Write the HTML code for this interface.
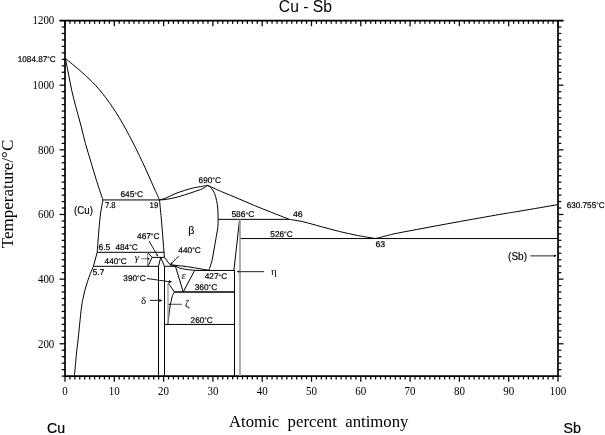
<!DOCTYPE html>
<html><head><meta charset="utf-8"><title>Cu - Sb</title>
<style>html,body{margin:0;padding:0;background:#fff;width:605px;height:435px;overflow:hidden}svg{display:block}</style>
</head><body>
<svg width="605" height="435" viewBox="0 0 605 435"><line x1="59.6" y1="20.55" x2="563.4" y2="20.55" stroke="#000" stroke-width="1.7"/>
<line x1="65" y1="20.55" x2="65" y2="376.1" stroke="#000" stroke-width="1.7"/>
<line x1="558" y1="20.55" x2="558" y2="376.1" stroke="#000" stroke-width="1.7"/>
<line x1="65" y1="376.1" x2="558" y2="376.1" stroke="#000" stroke-width="1.7"/>
<line x1="65" y1="376.1" x2="65" y2="381.7" stroke="#000" stroke-width="1.25"/>
<line x1="65" y1="20.55" x2="65" y2="26.15" stroke="#000" stroke-width="1.25"/>
<line x1="69.93" y1="376.1" x2="69.93" y2="379.4" stroke="#000" stroke-width="1.25"/>
<line x1="69.93" y1="20.55" x2="69.93" y2="23.85" stroke="#000" stroke-width="1.25"/>
<line x1="74.86" y1="376.1" x2="74.86" y2="379.4" stroke="#000" stroke-width="1.25"/>
<line x1="74.86" y1="20.55" x2="74.86" y2="23.85" stroke="#000" stroke-width="1.25"/>
<line x1="79.79" y1="376.1" x2="79.79" y2="379.4" stroke="#000" stroke-width="1.25"/>
<line x1="79.79" y1="20.55" x2="79.79" y2="23.85" stroke="#000" stroke-width="1.25"/>
<line x1="84.72" y1="376.1" x2="84.72" y2="379.4" stroke="#000" stroke-width="1.25"/>
<line x1="84.72" y1="20.55" x2="84.72" y2="23.85" stroke="#000" stroke-width="1.25"/>
<line x1="89.65" y1="376.1" x2="89.65" y2="379.4" stroke="#000" stroke-width="1.25"/>
<line x1="89.65" y1="20.55" x2="89.65" y2="23.85" stroke="#000" stroke-width="1.25"/>
<line x1="94.58" y1="376.1" x2="94.58" y2="379.4" stroke="#000" stroke-width="1.25"/>
<line x1="94.58" y1="20.55" x2="94.58" y2="23.85" stroke="#000" stroke-width="1.25"/>
<line x1="99.51" y1="376.1" x2="99.51" y2="379.4" stroke="#000" stroke-width="1.25"/>
<line x1="99.51" y1="20.55" x2="99.51" y2="23.85" stroke="#000" stroke-width="1.25"/>
<line x1="104.44" y1="376.1" x2="104.44" y2="379.4" stroke="#000" stroke-width="1.25"/>
<line x1="104.44" y1="20.55" x2="104.44" y2="23.85" stroke="#000" stroke-width="1.25"/>
<line x1="109.37" y1="376.1" x2="109.37" y2="379.4" stroke="#000" stroke-width="1.25"/>
<line x1="109.37" y1="20.55" x2="109.37" y2="23.85" stroke="#000" stroke-width="1.25"/>
<line x1="114.3" y1="376.1" x2="114.3" y2="381.7" stroke="#000" stroke-width="1.25"/>
<line x1="114.3" y1="20.55" x2="114.3" y2="26.15" stroke="#000" stroke-width="1.25"/>
<line x1="119.23" y1="376.1" x2="119.23" y2="379.4" stroke="#000" stroke-width="1.25"/>
<line x1="119.23" y1="20.55" x2="119.23" y2="23.85" stroke="#000" stroke-width="1.25"/>
<line x1="124.16" y1="376.1" x2="124.16" y2="379.4" stroke="#000" stroke-width="1.25"/>
<line x1="124.16" y1="20.55" x2="124.16" y2="23.85" stroke="#000" stroke-width="1.25"/>
<line x1="129.09" y1="376.1" x2="129.09" y2="379.4" stroke="#000" stroke-width="1.25"/>
<line x1="129.09" y1="20.55" x2="129.09" y2="23.85" stroke="#000" stroke-width="1.25"/>
<line x1="134.02" y1="376.1" x2="134.02" y2="379.4" stroke="#000" stroke-width="1.25"/>
<line x1="134.02" y1="20.55" x2="134.02" y2="23.85" stroke="#000" stroke-width="1.25"/>
<line x1="138.95" y1="376.1" x2="138.95" y2="379.4" stroke="#000" stroke-width="1.25"/>
<line x1="138.95" y1="20.55" x2="138.95" y2="23.85" stroke="#000" stroke-width="1.25"/>
<line x1="143.88" y1="376.1" x2="143.88" y2="379.4" stroke="#000" stroke-width="1.25"/>
<line x1="143.88" y1="20.55" x2="143.88" y2="23.85" stroke="#000" stroke-width="1.25"/>
<line x1="148.81" y1="376.1" x2="148.81" y2="379.4" stroke="#000" stroke-width="1.25"/>
<line x1="148.81" y1="20.55" x2="148.81" y2="23.85" stroke="#000" stroke-width="1.25"/>
<line x1="153.74" y1="376.1" x2="153.74" y2="379.4" stroke="#000" stroke-width="1.25"/>
<line x1="153.74" y1="20.55" x2="153.74" y2="23.85" stroke="#000" stroke-width="1.25"/>
<line x1="158.67" y1="376.1" x2="158.67" y2="379.4" stroke="#000" stroke-width="1.25"/>
<line x1="158.67" y1="20.55" x2="158.67" y2="23.85" stroke="#000" stroke-width="1.25"/>
<line x1="163.6" y1="376.1" x2="163.6" y2="381.7" stroke="#000" stroke-width="1.25"/>
<line x1="163.6" y1="20.55" x2="163.6" y2="26.15" stroke="#000" stroke-width="1.25"/>
<line x1="168.53" y1="376.1" x2="168.53" y2="379.4" stroke="#000" stroke-width="1.25"/>
<line x1="168.53" y1="20.55" x2="168.53" y2="23.85" stroke="#000" stroke-width="1.25"/>
<line x1="173.46" y1="376.1" x2="173.46" y2="379.4" stroke="#000" stroke-width="1.25"/>
<line x1="173.46" y1="20.55" x2="173.46" y2="23.85" stroke="#000" stroke-width="1.25"/>
<line x1="178.39" y1="376.1" x2="178.39" y2="379.4" stroke="#000" stroke-width="1.25"/>
<line x1="178.39" y1="20.55" x2="178.39" y2="23.85" stroke="#000" stroke-width="1.25"/>
<line x1="183.32" y1="376.1" x2="183.32" y2="379.4" stroke="#000" stroke-width="1.25"/>
<line x1="183.32" y1="20.55" x2="183.32" y2="23.85" stroke="#000" stroke-width="1.25"/>
<line x1="188.25" y1="376.1" x2="188.25" y2="379.4" stroke="#000" stroke-width="1.25"/>
<line x1="188.25" y1="20.55" x2="188.25" y2="23.85" stroke="#000" stroke-width="1.25"/>
<line x1="193.18" y1="376.1" x2="193.18" y2="379.4" stroke="#000" stroke-width="1.25"/>
<line x1="193.18" y1="20.55" x2="193.18" y2="23.85" stroke="#000" stroke-width="1.25"/>
<line x1="198.11" y1="376.1" x2="198.11" y2="379.4" stroke="#000" stroke-width="1.25"/>
<line x1="198.11" y1="20.55" x2="198.11" y2="23.85" stroke="#000" stroke-width="1.25"/>
<line x1="203.04" y1="376.1" x2="203.04" y2="379.4" stroke="#000" stroke-width="1.25"/>
<line x1="203.04" y1="20.55" x2="203.04" y2="23.85" stroke="#000" stroke-width="1.25"/>
<line x1="207.97" y1="376.1" x2="207.97" y2="379.4" stroke="#000" stroke-width="1.25"/>
<line x1="207.97" y1="20.55" x2="207.97" y2="23.85" stroke="#000" stroke-width="1.25"/>
<line x1="212.9" y1="376.1" x2="212.9" y2="381.7" stroke="#000" stroke-width="1.25"/>
<line x1="212.9" y1="20.55" x2="212.9" y2="26.15" stroke="#000" stroke-width="1.25"/>
<line x1="217.83" y1="376.1" x2="217.83" y2="379.4" stroke="#000" stroke-width="1.25"/>
<line x1="217.83" y1="20.55" x2="217.83" y2="23.85" stroke="#000" stroke-width="1.25"/>
<line x1="222.76" y1="376.1" x2="222.76" y2="379.4" stroke="#000" stroke-width="1.25"/>
<line x1="222.76" y1="20.55" x2="222.76" y2="23.85" stroke="#000" stroke-width="1.25"/>
<line x1="227.69" y1="376.1" x2="227.69" y2="379.4" stroke="#000" stroke-width="1.25"/>
<line x1="227.69" y1="20.55" x2="227.69" y2="23.85" stroke="#000" stroke-width="1.25"/>
<line x1="232.62" y1="376.1" x2="232.62" y2="379.4" stroke="#000" stroke-width="1.25"/>
<line x1="232.62" y1="20.55" x2="232.62" y2="23.85" stroke="#000" stroke-width="1.25"/>
<line x1="237.55" y1="376.1" x2="237.55" y2="379.4" stroke="#000" stroke-width="1.25"/>
<line x1="237.55" y1="20.55" x2="237.55" y2="23.85" stroke="#000" stroke-width="1.25"/>
<line x1="242.48" y1="376.1" x2="242.48" y2="379.4" stroke="#000" stroke-width="1.25"/>
<line x1="242.48" y1="20.55" x2="242.48" y2="23.85" stroke="#000" stroke-width="1.25"/>
<line x1="247.41" y1="376.1" x2="247.41" y2="379.4" stroke="#000" stroke-width="1.25"/>
<line x1="247.41" y1="20.55" x2="247.41" y2="23.85" stroke="#000" stroke-width="1.25"/>
<line x1="252.34" y1="376.1" x2="252.34" y2="379.4" stroke="#000" stroke-width="1.25"/>
<line x1="252.34" y1="20.55" x2="252.34" y2="23.85" stroke="#000" stroke-width="1.25"/>
<line x1="257.27" y1="376.1" x2="257.27" y2="379.4" stroke="#000" stroke-width="1.25"/>
<line x1="257.27" y1="20.55" x2="257.27" y2="23.85" stroke="#000" stroke-width="1.25"/>
<line x1="262.2" y1="376.1" x2="262.2" y2="381.7" stroke="#000" stroke-width="1.25"/>
<line x1="262.2" y1="20.55" x2="262.2" y2="26.15" stroke="#000" stroke-width="1.25"/>
<line x1="267.13" y1="376.1" x2="267.13" y2="379.4" stroke="#000" stroke-width="1.25"/>
<line x1="267.13" y1="20.55" x2="267.13" y2="23.85" stroke="#000" stroke-width="1.25"/>
<line x1="272.06" y1="376.1" x2="272.06" y2="379.4" stroke="#000" stroke-width="1.25"/>
<line x1="272.06" y1="20.55" x2="272.06" y2="23.85" stroke="#000" stroke-width="1.25"/>
<line x1="276.99" y1="376.1" x2="276.99" y2="379.4" stroke="#000" stroke-width="1.25"/>
<line x1="276.99" y1="20.55" x2="276.99" y2="23.85" stroke="#000" stroke-width="1.25"/>
<line x1="281.92" y1="376.1" x2="281.92" y2="379.4" stroke="#000" stroke-width="1.25"/>
<line x1="281.92" y1="20.55" x2="281.92" y2="23.85" stroke="#000" stroke-width="1.25"/>
<line x1="286.85" y1="376.1" x2="286.85" y2="379.4" stroke="#000" stroke-width="1.25"/>
<line x1="286.85" y1="20.55" x2="286.85" y2="23.85" stroke="#000" stroke-width="1.25"/>
<line x1="291.78" y1="376.1" x2="291.78" y2="379.4" stroke="#000" stroke-width="1.25"/>
<line x1="291.78" y1="20.55" x2="291.78" y2="23.85" stroke="#000" stroke-width="1.25"/>
<line x1="296.71" y1="376.1" x2="296.71" y2="379.4" stroke="#000" stroke-width="1.25"/>
<line x1="296.71" y1="20.55" x2="296.71" y2="23.85" stroke="#000" stroke-width="1.25"/>
<line x1="301.64" y1="376.1" x2="301.64" y2="379.4" stroke="#000" stroke-width="1.25"/>
<line x1="301.64" y1="20.55" x2="301.64" y2="23.85" stroke="#000" stroke-width="1.25"/>
<line x1="306.57" y1="376.1" x2="306.57" y2="379.4" stroke="#000" stroke-width="1.25"/>
<line x1="306.57" y1="20.55" x2="306.57" y2="23.85" stroke="#000" stroke-width="1.25"/>
<line x1="311.5" y1="376.1" x2="311.5" y2="381.7" stroke="#000" stroke-width="1.25"/>
<line x1="311.5" y1="20.55" x2="311.5" y2="26.15" stroke="#000" stroke-width="1.25"/>
<line x1="316.43" y1="376.1" x2="316.43" y2="379.4" stroke="#000" stroke-width="1.25"/>
<line x1="316.43" y1="20.55" x2="316.43" y2="23.85" stroke="#000" stroke-width="1.25"/>
<line x1="321.36" y1="376.1" x2="321.36" y2="379.4" stroke="#000" stroke-width="1.25"/>
<line x1="321.36" y1="20.55" x2="321.36" y2="23.85" stroke="#000" stroke-width="1.25"/>
<line x1="326.29" y1="376.1" x2="326.29" y2="379.4" stroke="#000" stroke-width="1.25"/>
<line x1="326.29" y1="20.55" x2="326.29" y2="23.85" stroke="#000" stroke-width="1.25"/>
<line x1="331.22" y1="376.1" x2="331.22" y2="379.4" stroke="#000" stroke-width="1.25"/>
<line x1="331.22" y1="20.55" x2="331.22" y2="23.85" stroke="#000" stroke-width="1.25"/>
<line x1="336.15" y1="376.1" x2="336.15" y2="379.4" stroke="#000" stroke-width="1.25"/>
<line x1="336.15" y1="20.55" x2="336.15" y2="23.85" stroke="#000" stroke-width="1.25"/>
<line x1="341.08" y1="376.1" x2="341.08" y2="379.4" stroke="#000" stroke-width="1.25"/>
<line x1="341.08" y1="20.55" x2="341.08" y2="23.85" stroke="#000" stroke-width="1.25"/>
<line x1="346.01" y1="376.1" x2="346.01" y2="379.4" stroke="#000" stroke-width="1.25"/>
<line x1="346.01" y1="20.55" x2="346.01" y2="23.85" stroke="#000" stroke-width="1.25"/>
<line x1="350.94" y1="376.1" x2="350.94" y2="379.4" stroke="#000" stroke-width="1.25"/>
<line x1="350.94" y1="20.55" x2="350.94" y2="23.85" stroke="#000" stroke-width="1.25"/>
<line x1="355.87" y1="376.1" x2="355.87" y2="379.4" stroke="#000" stroke-width="1.25"/>
<line x1="355.87" y1="20.55" x2="355.87" y2="23.85" stroke="#000" stroke-width="1.25"/>
<line x1="360.8" y1="376.1" x2="360.8" y2="381.7" stroke="#000" stroke-width="1.25"/>
<line x1="360.8" y1="20.55" x2="360.8" y2="26.15" stroke="#000" stroke-width="1.25"/>
<line x1="365.73" y1="376.1" x2="365.73" y2="379.4" stroke="#000" stroke-width="1.25"/>
<line x1="365.73" y1="20.55" x2="365.73" y2="23.85" stroke="#000" stroke-width="1.25"/>
<line x1="370.66" y1="376.1" x2="370.66" y2="379.4" stroke="#000" stroke-width="1.25"/>
<line x1="370.66" y1="20.55" x2="370.66" y2="23.85" stroke="#000" stroke-width="1.25"/>
<line x1="375.59" y1="376.1" x2="375.59" y2="379.4" stroke="#000" stroke-width="1.25"/>
<line x1="375.59" y1="20.55" x2="375.59" y2="23.85" stroke="#000" stroke-width="1.25"/>
<line x1="380.52" y1="376.1" x2="380.52" y2="379.4" stroke="#000" stroke-width="1.25"/>
<line x1="380.52" y1="20.55" x2="380.52" y2="23.85" stroke="#000" stroke-width="1.25"/>
<line x1="385.45" y1="376.1" x2="385.45" y2="379.4" stroke="#000" stroke-width="1.25"/>
<line x1="385.45" y1="20.55" x2="385.45" y2="23.85" stroke="#000" stroke-width="1.25"/>
<line x1="390.38" y1="376.1" x2="390.38" y2="379.4" stroke="#000" stroke-width="1.25"/>
<line x1="390.38" y1="20.55" x2="390.38" y2="23.85" stroke="#000" stroke-width="1.25"/>
<line x1="395.31" y1="376.1" x2="395.31" y2="379.4" stroke="#000" stroke-width="1.25"/>
<line x1="395.31" y1="20.55" x2="395.31" y2="23.85" stroke="#000" stroke-width="1.25"/>
<line x1="400.24" y1="376.1" x2="400.24" y2="379.4" stroke="#000" stroke-width="1.25"/>
<line x1="400.24" y1="20.55" x2="400.24" y2="23.85" stroke="#000" stroke-width="1.25"/>
<line x1="405.17" y1="376.1" x2="405.17" y2="379.4" stroke="#000" stroke-width="1.25"/>
<line x1="405.17" y1="20.55" x2="405.17" y2="23.85" stroke="#000" stroke-width="1.25"/>
<line x1="410.1" y1="376.1" x2="410.1" y2="381.7" stroke="#000" stroke-width="1.25"/>
<line x1="410.1" y1="20.55" x2="410.1" y2="26.15" stroke="#000" stroke-width="1.25"/>
<line x1="415.03" y1="376.1" x2="415.03" y2="379.4" stroke="#000" stroke-width="1.25"/>
<line x1="415.03" y1="20.55" x2="415.03" y2="23.85" stroke="#000" stroke-width="1.25"/>
<line x1="419.96" y1="376.1" x2="419.96" y2="379.4" stroke="#000" stroke-width="1.25"/>
<line x1="419.96" y1="20.55" x2="419.96" y2="23.85" stroke="#000" stroke-width="1.25"/>
<line x1="424.89" y1="376.1" x2="424.89" y2="379.4" stroke="#000" stroke-width="1.25"/>
<line x1="424.89" y1="20.55" x2="424.89" y2="23.85" stroke="#000" stroke-width="1.25"/>
<line x1="429.82" y1="376.1" x2="429.82" y2="379.4" stroke="#000" stroke-width="1.25"/>
<line x1="429.82" y1="20.55" x2="429.82" y2="23.85" stroke="#000" stroke-width="1.25"/>
<line x1="434.75" y1="376.1" x2="434.75" y2="379.4" stroke="#000" stroke-width="1.25"/>
<line x1="434.75" y1="20.55" x2="434.75" y2="23.85" stroke="#000" stroke-width="1.25"/>
<line x1="439.68" y1="376.1" x2="439.68" y2="379.4" stroke="#000" stroke-width="1.25"/>
<line x1="439.68" y1="20.55" x2="439.68" y2="23.85" stroke="#000" stroke-width="1.25"/>
<line x1="444.61" y1="376.1" x2="444.61" y2="379.4" stroke="#000" stroke-width="1.25"/>
<line x1="444.61" y1="20.55" x2="444.61" y2="23.85" stroke="#000" stroke-width="1.25"/>
<line x1="449.54" y1="376.1" x2="449.54" y2="379.4" stroke="#000" stroke-width="1.25"/>
<line x1="449.54" y1="20.55" x2="449.54" y2="23.85" stroke="#000" stroke-width="1.25"/>
<line x1="454.47" y1="376.1" x2="454.47" y2="379.4" stroke="#000" stroke-width="1.25"/>
<line x1="454.47" y1="20.55" x2="454.47" y2="23.85" stroke="#000" stroke-width="1.25"/>
<line x1="459.4" y1="376.1" x2="459.4" y2="381.7" stroke="#000" stroke-width="1.25"/>
<line x1="459.4" y1="20.55" x2="459.4" y2="26.15" stroke="#000" stroke-width="1.25"/>
<line x1="464.33" y1="376.1" x2="464.33" y2="379.4" stroke="#000" stroke-width="1.25"/>
<line x1="464.33" y1="20.55" x2="464.33" y2="23.85" stroke="#000" stroke-width="1.25"/>
<line x1="469.26" y1="376.1" x2="469.26" y2="379.4" stroke="#000" stroke-width="1.25"/>
<line x1="469.26" y1="20.55" x2="469.26" y2="23.85" stroke="#000" stroke-width="1.25"/>
<line x1="474.19" y1="376.1" x2="474.19" y2="379.4" stroke="#000" stroke-width="1.25"/>
<line x1="474.19" y1="20.55" x2="474.19" y2="23.85" stroke="#000" stroke-width="1.25"/>
<line x1="479.12" y1="376.1" x2="479.12" y2="379.4" stroke="#000" stroke-width="1.25"/>
<line x1="479.12" y1="20.55" x2="479.12" y2="23.85" stroke="#000" stroke-width="1.25"/>
<line x1="484.05" y1="376.1" x2="484.05" y2="379.4" stroke="#000" stroke-width="1.25"/>
<line x1="484.05" y1="20.55" x2="484.05" y2="23.85" stroke="#000" stroke-width="1.25"/>
<line x1="488.98" y1="376.1" x2="488.98" y2="379.4" stroke="#000" stroke-width="1.25"/>
<line x1="488.98" y1="20.55" x2="488.98" y2="23.85" stroke="#000" stroke-width="1.25"/>
<line x1="493.91" y1="376.1" x2="493.91" y2="379.4" stroke="#000" stroke-width="1.25"/>
<line x1="493.91" y1="20.55" x2="493.91" y2="23.85" stroke="#000" stroke-width="1.25"/>
<line x1="498.84" y1="376.1" x2="498.84" y2="379.4" stroke="#000" stroke-width="1.25"/>
<line x1="498.84" y1="20.55" x2="498.84" y2="23.85" stroke="#000" stroke-width="1.25"/>
<line x1="503.77" y1="376.1" x2="503.77" y2="379.4" stroke="#000" stroke-width="1.25"/>
<line x1="503.77" y1="20.55" x2="503.77" y2="23.85" stroke="#000" stroke-width="1.25"/>
<line x1="508.7" y1="376.1" x2="508.7" y2="381.7" stroke="#000" stroke-width="1.25"/>
<line x1="508.7" y1="20.55" x2="508.7" y2="26.15" stroke="#000" stroke-width="1.25"/>
<line x1="513.63" y1="376.1" x2="513.63" y2="379.4" stroke="#000" stroke-width="1.25"/>
<line x1="513.63" y1="20.55" x2="513.63" y2="23.85" stroke="#000" stroke-width="1.25"/>
<line x1="518.56" y1="376.1" x2="518.56" y2="379.4" stroke="#000" stroke-width="1.25"/>
<line x1="518.56" y1="20.55" x2="518.56" y2="23.85" stroke="#000" stroke-width="1.25"/>
<line x1="523.49" y1="376.1" x2="523.49" y2="379.4" stroke="#000" stroke-width="1.25"/>
<line x1="523.49" y1="20.55" x2="523.49" y2="23.85" stroke="#000" stroke-width="1.25"/>
<line x1="528.42" y1="376.1" x2="528.42" y2="379.4" stroke="#000" stroke-width="1.25"/>
<line x1="528.42" y1="20.55" x2="528.42" y2="23.85" stroke="#000" stroke-width="1.25"/>
<line x1="533.35" y1="376.1" x2="533.35" y2="379.4" stroke="#000" stroke-width="1.25"/>
<line x1="533.35" y1="20.55" x2="533.35" y2="23.85" stroke="#000" stroke-width="1.25"/>
<line x1="538.28" y1="376.1" x2="538.28" y2="379.4" stroke="#000" stroke-width="1.25"/>
<line x1="538.28" y1="20.55" x2="538.28" y2="23.85" stroke="#000" stroke-width="1.25"/>
<line x1="543.21" y1="376.1" x2="543.21" y2="379.4" stroke="#000" stroke-width="1.25"/>
<line x1="543.21" y1="20.55" x2="543.21" y2="23.85" stroke="#000" stroke-width="1.25"/>
<line x1="548.14" y1="376.1" x2="548.14" y2="379.4" stroke="#000" stroke-width="1.25"/>
<line x1="548.14" y1="20.55" x2="548.14" y2="23.85" stroke="#000" stroke-width="1.25"/>
<line x1="553.07" y1="376.1" x2="553.07" y2="379.4" stroke="#000" stroke-width="1.25"/>
<line x1="553.07" y1="20.55" x2="553.07" y2="23.85" stroke="#000" stroke-width="1.25"/>
<line x1="558" y1="376.1" x2="558" y2="381.7" stroke="#000" stroke-width="1.25"/>
<line x1="558" y1="20.55" x2="558" y2="26.15" stroke="#000" stroke-width="1.25"/>
<line x1="61.7" y1="376.1" x2="65" y2="376.1" stroke="#000" stroke-width="1.25"/>
<line x1="558" y1="376.1" x2="561.3" y2="376.1" stroke="#000" stroke-width="1.25"/>
<line x1="61.7" y1="369.64" x2="65" y2="369.64" stroke="#000" stroke-width="1.25"/>
<line x1="558" y1="369.64" x2="561.3" y2="369.64" stroke="#000" stroke-width="1.25"/>
<line x1="61.7" y1="363.17" x2="65" y2="363.17" stroke="#000" stroke-width="1.25"/>
<line x1="558" y1="363.17" x2="561.3" y2="363.17" stroke="#000" stroke-width="1.25"/>
<line x1="61.7" y1="356.71" x2="65" y2="356.71" stroke="#000" stroke-width="1.25"/>
<line x1="558" y1="356.71" x2="561.3" y2="356.71" stroke="#000" stroke-width="1.25"/>
<line x1="61.7" y1="350.24" x2="65" y2="350.24" stroke="#000" stroke-width="1.25"/>
<line x1="558" y1="350.24" x2="561.3" y2="350.24" stroke="#000" stroke-width="1.25"/>
<line x1="59.6" y1="343.78" x2="65" y2="343.78" stroke="#000" stroke-width="1.25"/>
<line x1="558" y1="343.78" x2="563.4" y2="343.78" stroke="#000" stroke-width="1.25"/>
<line x1="61.7" y1="337.31" x2="65" y2="337.31" stroke="#000" stroke-width="1.25"/>
<line x1="558" y1="337.31" x2="561.3" y2="337.31" stroke="#000" stroke-width="1.25"/>
<line x1="61.7" y1="330.85" x2="65" y2="330.85" stroke="#000" stroke-width="1.25"/>
<line x1="558" y1="330.85" x2="561.3" y2="330.85" stroke="#000" stroke-width="1.25"/>
<line x1="61.7" y1="324.38" x2="65" y2="324.38" stroke="#000" stroke-width="1.25"/>
<line x1="558" y1="324.38" x2="561.3" y2="324.38" stroke="#000" stroke-width="1.25"/>
<line x1="61.7" y1="317.92" x2="65" y2="317.92" stroke="#000" stroke-width="1.25"/>
<line x1="558" y1="317.92" x2="561.3" y2="317.92" stroke="#000" stroke-width="1.25"/>
<line x1="61.7" y1="311.45" x2="65" y2="311.45" stroke="#000" stroke-width="1.25"/>
<line x1="558" y1="311.45" x2="561.3" y2="311.45" stroke="#000" stroke-width="1.25"/>
<line x1="61.7" y1="304.99" x2="65" y2="304.99" stroke="#000" stroke-width="1.25"/>
<line x1="558" y1="304.99" x2="561.3" y2="304.99" stroke="#000" stroke-width="1.25"/>
<line x1="61.7" y1="298.53" x2="65" y2="298.53" stroke="#000" stroke-width="1.25"/>
<line x1="558" y1="298.53" x2="561.3" y2="298.53" stroke="#000" stroke-width="1.25"/>
<line x1="61.7" y1="292.06" x2="65" y2="292.06" stroke="#000" stroke-width="1.25"/>
<line x1="558" y1="292.06" x2="561.3" y2="292.06" stroke="#000" stroke-width="1.25"/>
<line x1="61.7" y1="285.6" x2="65" y2="285.6" stroke="#000" stroke-width="1.25"/>
<line x1="558" y1="285.6" x2="561.3" y2="285.6" stroke="#000" stroke-width="1.25"/>
<line x1="59.6" y1="279.13" x2="65" y2="279.13" stroke="#000" stroke-width="1.25"/>
<line x1="558" y1="279.13" x2="563.4" y2="279.13" stroke="#000" stroke-width="1.25"/>
<line x1="61.7" y1="272.67" x2="65" y2="272.67" stroke="#000" stroke-width="1.25"/>
<line x1="558" y1="272.67" x2="561.3" y2="272.67" stroke="#000" stroke-width="1.25"/>
<line x1="61.7" y1="266.2" x2="65" y2="266.2" stroke="#000" stroke-width="1.25"/>
<line x1="558" y1="266.2" x2="561.3" y2="266.2" stroke="#000" stroke-width="1.25"/>
<line x1="61.7" y1="259.74" x2="65" y2="259.74" stroke="#000" stroke-width="1.25"/>
<line x1="558" y1="259.74" x2="561.3" y2="259.74" stroke="#000" stroke-width="1.25"/>
<line x1="61.7" y1="253.27" x2="65" y2="253.27" stroke="#000" stroke-width="1.25"/>
<line x1="558" y1="253.27" x2="561.3" y2="253.27" stroke="#000" stroke-width="1.25"/>
<line x1="61.7" y1="246.81" x2="65" y2="246.81" stroke="#000" stroke-width="1.25"/>
<line x1="558" y1="246.81" x2="561.3" y2="246.81" stroke="#000" stroke-width="1.25"/>
<line x1="61.7" y1="240.34" x2="65" y2="240.34" stroke="#000" stroke-width="1.25"/>
<line x1="558" y1="240.34" x2="561.3" y2="240.34" stroke="#000" stroke-width="1.25"/>
<line x1="61.7" y1="233.88" x2="65" y2="233.88" stroke="#000" stroke-width="1.25"/>
<line x1="558" y1="233.88" x2="561.3" y2="233.88" stroke="#000" stroke-width="1.25"/>
<line x1="61.7" y1="227.42" x2="65" y2="227.42" stroke="#000" stroke-width="1.25"/>
<line x1="558" y1="227.42" x2="561.3" y2="227.42" stroke="#000" stroke-width="1.25"/>
<line x1="61.7" y1="220.95" x2="65" y2="220.95" stroke="#000" stroke-width="1.25"/>
<line x1="558" y1="220.95" x2="561.3" y2="220.95" stroke="#000" stroke-width="1.25"/>
<line x1="59.6" y1="214.49" x2="65" y2="214.49" stroke="#000" stroke-width="1.25"/>
<line x1="558" y1="214.49" x2="563.4" y2="214.49" stroke="#000" stroke-width="1.25"/>
<line x1="61.7" y1="208.02" x2="65" y2="208.02" stroke="#000" stroke-width="1.25"/>
<line x1="558" y1="208.02" x2="561.3" y2="208.02" stroke="#000" stroke-width="1.25"/>
<line x1="61.7" y1="201.56" x2="65" y2="201.56" stroke="#000" stroke-width="1.25"/>
<line x1="558" y1="201.56" x2="561.3" y2="201.56" stroke="#000" stroke-width="1.25"/>
<line x1="61.7" y1="195.09" x2="65" y2="195.09" stroke="#000" stroke-width="1.25"/>
<line x1="558" y1="195.09" x2="561.3" y2="195.09" stroke="#000" stroke-width="1.25"/>
<line x1="61.7" y1="188.63" x2="65" y2="188.63" stroke="#000" stroke-width="1.25"/>
<line x1="558" y1="188.63" x2="561.3" y2="188.63" stroke="#000" stroke-width="1.25"/>
<line x1="61.7" y1="182.16" x2="65" y2="182.16" stroke="#000" stroke-width="1.25"/>
<line x1="558" y1="182.16" x2="561.3" y2="182.16" stroke="#000" stroke-width="1.25"/>
<line x1="61.7" y1="175.7" x2="65" y2="175.7" stroke="#000" stroke-width="1.25"/>
<line x1="558" y1="175.7" x2="561.3" y2="175.7" stroke="#000" stroke-width="1.25"/>
<line x1="61.7" y1="169.23" x2="65" y2="169.23" stroke="#000" stroke-width="1.25"/>
<line x1="558" y1="169.23" x2="561.3" y2="169.23" stroke="#000" stroke-width="1.25"/>
<line x1="61.7" y1="162.77" x2="65" y2="162.77" stroke="#000" stroke-width="1.25"/>
<line x1="558" y1="162.77" x2="561.3" y2="162.77" stroke="#000" stroke-width="1.25"/>
<line x1="61.7" y1="156.31" x2="65" y2="156.31" stroke="#000" stroke-width="1.25"/>
<line x1="558" y1="156.31" x2="561.3" y2="156.31" stroke="#000" stroke-width="1.25"/>
<line x1="59.6" y1="149.84" x2="65" y2="149.84" stroke="#000" stroke-width="1.25"/>
<line x1="558" y1="149.84" x2="563.4" y2="149.84" stroke="#000" stroke-width="1.25"/>
<line x1="61.7" y1="143.38" x2="65" y2="143.38" stroke="#000" stroke-width="1.25"/>
<line x1="558" y1="143.38" x2="561.3" y2="143.38" stroke="#000" stroke-width="1.25"/>
<line x1="61.7" y1="136.91" x2="65" y2="136.91" stroke="#000" stroke-width="1.25"/>
<line x1="558" y1="136.91" x2="561.3" y2="136.91" stroke="#000" stroke-width="1.25"/>
<line x1="61.7" y1="130.45" x2="65" y2="130.45" stroke="#000" stroke-width="1.25"/>
<line x1="558" y1="130.45" x2="561.3" y2="130.45" stroke="#000" stroke-width="1.25"/>
<line x1="61.7" y1="123.98" x2="65" y2="123.98" stroke="#000" stroke-width="1.25"/>
<line x1="558" y1="123.98" x2="561.3" y2="123.98" stroke="#000" stroke-width="1.25"/>
<line x1="61.7" y1="117.52" x2="65" y2="117.52" stroke="#000" stroke-width="1.25"/>
<line x1="558" y1="117.52" x2="561.3" y2="117.52" stroke="#000" stroke-width="1.25"/>
<line x1="61.7" y1="111.05" x2="65" y2="111.05" stroke="#000" stroke-width="1.25"/>
<line x1="558" y1="111.05" x2="561.3" y2="111.05" stroke="#000" stroke-width="1.25"/>
<line x1="61.7" y1="104.59" x2="65" y2="104.59" stroke="#000" stroke-width="1.25"/>
<line x1="558" y1="104.59" x2="561.3" y2="104.59" stroke="#000" stroke-width="1.25"/>
<line x1="61.7" y1="98.12" x2="65" y2="98.12" stroke="#000" stroke-width="1.25"/>
<line x1="558" y1="98.12" x2="561.3" y2="98.12" stroke="#000" stroke-width="1.25"/>
<line x1="61.7" y1="91.66" x2="65" y2="91.66" stroke="#000" stroke-width="1.25"/>
<line x1="558" y1="91.66" x2="561.3" y2="91.66" stroke="#000" stroke-width="1.25"/>
<line x1="59.6" y1="85.2" x2="65" y2="85.2" stroke="#000" stroke-width="1.25"/>
<line x1="558" y1="85.2" x2="563.4" y2="85.2" stroke="#000" stroke-width="1.25"/>
<line x1="61.7" y1="78.73" x2="65" y2="78.73" stroke="#000" stroke-width="1.25"/>
<line x1="558" y1="78.73" x2="561.3" y2="78.73" stroke="#000" stroke-width="1.25"/>
<line x1="61.7" y1="72.27" x2="65" y2="72.27" stroke="#000" stroke-width="1.25"/>
<line x1="558" y1="72.27" x2="561.3" y2="72.27" stroke="#000" stroke-width="1.25"/>
<line x1="61.7" y1="65.8" x2="65" y2="65.8" stroke="#000" stroke-width="1.25"/>
<line x1="558" y1="65.8" x2="561.3" y2="65.8" stroke="#000" stroke-width="1.25"/>
<line x1="61.7" y1="59.34" x2="65" y2="59.34" stroke="#000" stroke-width="1.25"/>
<line x1="558" y1="59.34" x2="561.3" y2="59.34" stroke="#000" stroke-width="1.25"/>
<line x1="61.7" y1="52.87" x2="65" y2="52.87" stroke="#000" stroke-width="1.25"/>
<line x1="558" y1="52.87" x2="561.3" y2="52.87" stroke="#000" stroke-width="1.25"/>
<line x1="61.7" y1="46.41" x2="65" y2="46.41" stroke="#000" stroke-width="1.25"/>
<line x1="558" y1="46.41" x2="561.3" y2="46.41" stroke="#000" stroke-width="1.25"/>
<line x1="61.7" y1="39.94" x2="65" y2="39.94" stroke="#000" stroke-width="1.25"/>
<line x1="558" y1="39.94" x2="561.3" y2="39.94" stroke="#000" stroke-width="1.25"/>
<line x1="61.7" y1="33.48" x2="65" y2="33.48" stroke="#000" stroke-width="1.25"/>
<line x1="558" y1="33.48" x2="561.3" y2="33.48" stroke="#000" stroke-width="1.25"/>
<line x1="61.7" y1="27.01" x2="65" y2="27.01" stroke="#000" stroke-width="1.25"/>
<line x1="558" y1="27.01" x2="561.3" y2="27.01" stroke="#000" stroke-width="1.25"/>
<line x1="59.6" y1="20.55" x2="65" y2="20.55" stroke="#000" stroke-width="1.25"/>
<line x1="558" y1="20.55" x2="563.4" y2="20.55" stroke="#000" stroke-width="1.25"/>
<text x="65" y="394.5" style="font-family:'Liberation Serif','Times New Roman',serif;font-size:11.8px" text-anchor="middle" textLength="5.5" lengthAdjust="spacingAndGlyphs">0</text>
<text x="114.3" y="394.5" style="font-family:'Liberation Serif','Times New Roman',serif;font-size:11.8px" text-anchor="middle" textLength="11" lengthAdjust="spacingAndGlyphs">10</text>
<text x="163.6" y="394.5" style="font-family:'Liberation Serif','Times New Roman',serif;font-size:11.8px" text-anchor="middle" textLength="11" lengthAdjust="spacingAndGlyphs">20</text>
<text x="212.9" y="394.5" style="font-family:'Liberation Serif','Times New Roman',serif;font-size:11.8px" text-anchor="middle" textLength="11" lengthAdjust="spacingAndGlyphs">30</text>
<text x="262.2" y="394.5" style="font-family:'Liberation Serif','Times New Roman',serif;font-size:11.8px" text-anchor="middle" textLength="11" lengthAdjust="spacingAndGlyphs">40</text>
<text x="311.5" y="394.5" style="font-family:'Liberation Serif','Times New Roman',serif;font-size:11.8px" text-anchor="middle" textLength="11" lengthAdjust="spacingAndGlyphs">50</text>
<text x="360.8" y="394.5" style="font-family:'Liberation Serif','Times New Roman',serif;font-size:11.8px" text-anchor="middle" textLength="11" lengthAdjust="spacingAndGlyphs">60</text>
<text x="410.1" y="394.5" style="font-family:'Liberation Serif','Times New Roman',serif;font-size:11.8px" text-anchor="middle" textLength="11" lengthAdjust="spacingAndGlyphs">70</text>
<text x="459.4" y="394.5" style="font-family:'Liberation Serif','Times New Roman',serif;font-size:11.8px" text-anchor="middle" textLength="11" lengthAdjust="spacingAndGlyphs">80</text>
<text x="508.7" y="394.5" style="font-family:'Liberation Serif','Times New Roman',serif;font-size:11.8px" text-anchor="middle" textLength="11" lengthAdjust="spacingAndGlyphs">90</text>
<text x="558" y="394.5" style="font-family:'Liberation Serif','Times New Roman',serif;font-size:11.8px" text-anchor="middle" textLength="16.5" lengthAdjust="spacingAndGlyphs">100</text>
<text x="54.3" y="347.68" style="font-family:'Liberation Serif','Times New Roman',serif;font-size:11.8px" text-anchor="end" textLength="16.35" lengthAdjust="spacingAndGlyphs">200</text>
<text x="54.3" y="283.03" style="font-family:'Liberation Serif','Times New Roman',serif;font-size:11.8px" text-anchor="end" textLength="16.35" lengthAdjust="spacingAndGlyphs">400</text>
<text x="54.3" y="218.39" style="font-family:'Liberation Serif','Times New Roman',serif;font-size:11.8px" text-anchor="end" textLength="16.35" lengthAdjust="spacingAndGlyphs">600</text>
<text x="54.3" y="153.74" style="font-family:'Liberation Serif','Times New Roman',serif;font-size:11.8px" text-anchor="end" textLength="16.35" lengthAdjust="spacingAndGlyphs">800</text>
<text x="54.3" y="89.1" style="font-family:'Liberation Serif','Times New Roman',serif;font-size:11.8px" text-anchor="end" textLength="21.8" lengthAdjust="spacingAndGlyphs">1000</text>
<text x="54.3" y="24.45" style="font-family:'Liberation Serif','Times New Roman',serif;font-size:11.8px" text-anchor="end" textLength="21.8" lengthAdjust="spacingAndGlyphs">1200</text>
<text x="305.4" y="11.8" style="font-family:'Liberation Sans',Arial,sans-serif;font-size:16px" text-anchor="middle" textLength="53.2" lengthAdjust="spacingAndGlyphs">Cu - Sb</text>
<text x="229" y="426.8" style="font-family:'Liberation Serif','Times New Roman',serif;font-size:16.8px" text-anchor="start" textLength="179.5" lengthAdjust="spacingAndGlyphs">Atomic&#160;&#160;percent&#160;&#160;antimony</text>
<text x="0" y="0" transform="translate(13,194) rotate(-90)" style="font-family:'Liberation Serif','Times New Roman',serif;font-size:17.5px" text-anchor="middle" textLength="108.5" lengthAdjust="spacingAndGlyphs">Temperature/°C</text>
<text x="47" y="433.4" style="font-family:'Liberation Sans',Arial,sans-serif;font-size:15.4px" text-anchor="start" stroke="#000" stroke-width="0.2" textLength="18.1" lengthAdjust="spacingAndGlyphs">Cu</text>
<text x="563.5" y="433.4" style="font-family:'Liberation Sans',Arial,sans-serif;font-size:15.4px" text-anchor="start" stroke="#000" stroke-width="0.2" textLength="17.5" lengthAdjust="spacingAndGlyphs">Sb</text>
<path d="M65.4 58.4 C66.53 59.33 69.95 62.13 72.2 64 C74.45 65.87 76.67 67.68 78.9 69.6 C81.13 71.52 83.35 73.42 85.6 75.5 C87.85 77.58 90.15 79.78 92.4 82.1 C94.65 84.42 96.87 86.8 99.1 89.4 C101.33 92 103.57 94.75 105.8 97.7 C108.03 100.65 110.27 103.78 112.5 107.1 C114.73 110.42 116.97 113.9 119.2 117.6 C121.43 121.3 123.67 125.23 125.9 129.3 C128.13 133.37 130.35 137.62 132.6 142 C134.85 146.38 137.15 150.93 139.4 155.6 C141.65 160.27 143.87 165.1 146.1 170 C148.33 174.9 150.57 180.01 152.8 185 C155.03 189.99 158.38 197.46 159.5 199.95" fill="none" stroke="#000" stroke-width="1.0"/>
<path d="M65.4 58.4 C65.92 61.02 67.45 68.78 68.5 74.1 C69.55 79.42 70.5 84.92 71.7 90.3 C72.9 95.68 74.18 100.62 75.7 106.4 C77.22 112.18 79.18 118.83 80.8 125 C82.42 131.17 83.72 137.27 85.4 143.4 C87.08 149.53 89.07 155.67 90.9 161.8 C92.73 167.93 94.4 173.84 96.4 180.2 C98.4 186.56 101.82 196.66 102.9 199.95" fill="none" stroke="#000" stroke-width="1.0"/>
<line x1="102.9" y1="199.95" x2="159.5" y2="199.95" stroke="#000" stroke-width="1.0"/>
<path d="M102.9 199.95 C102.5 202.31 101.17 209.06 100.5 214.1 C99.83 219.14 99.45 223.83 98.9 230.2 C98.35 236.57 97.48 248.62 97.2 252.3" fill="none" stroke="#000" stroke-width="1.0"/>
<line x1="97.2" y1="252.3" x2="93.4" y2="266.3" stroke="#000" stroke-width="1.0"/>
<path d="M93.4 266.3 C92.9 267.5 91.38 270.97 90.4 273.5 C89.42 276.03 88.43 278.63 87.5 281.5 C86.57 284.37 85.58 287.7 84.8 290.7 C84.02 293.7 83.38 296.53 82.8 299.5 C82.22 302.47 81.78 304.78 81.3 308.5 C80.82 312.22 80.42 316.78 79.9 321.8 C79.38 326.82 78.8 333.02 78.2 338.6 C77.6 344.18 76.93 349.05 76.3 355.3 C75.67 361.55 74.72 372.63 74.4 376.1" fill="none" stroke="#000" stroke-width="1.0"/>
<path d="M159.5 199.95 C160.6 199.61 163.48 198.94 166.1 197.9 C168.72 196.86 172.17 194.93 175.2 193.7 C178.23 192.47 181.27 191.47 184.3 190.5 C187.33 189.53 190.37 188.6 193.4 187.9 C196.43 187.2 200.12 186.72 202.5 186.3 C204.88 185.88 206.83 185.55 207.7 185.4" fill="none" stroke="#000" stroke-width="1.0"/>
<path d="M159.5 199.95 C160.6 199.86 163.48 199.79 166.1 199.4 C168.72 199.01 172.17 198.33 175.2 197.6 C178.23 196.87 181.27 195.93 184.3 195 C187.33 194.07 190.37 193.05 193.4 192 C196.43 190.95 200.12 189.8 202.5 188.7 C204.88 187.6 206.83 185.95 207.7 185.4" fill="none" stroke="#000" stroke-width="1.0"/>
<path d="M159.5 199.95 C159.85 203.66 160.85 213.47 161.6 222.2 C162.35 230.92 163.6 247.28 164 252.3" fill="none" stroke="#000" stroke-width="1.0"/>
<line x1="164" y1="252.3" x2="164.4" y2="257.4" stroke="#000" stroke-width="1.0"/>
<path d="M207.7 185.4 C208.32 185.87 210.27 186.88 211.4 188.2 C212.53 189.52 213.63 191.23 214.5 193.3 C215.37 195.37 216.05 198 216.6 200.6 C217.15 203.2 217.55 205.8 217.8 208.9 C218.05 212 218.1 216.1 218.1 219.2 C218.1 222.3 218.1 224.62 217.8 227.5 C217.5 230.38 216.88 233.08 216.3 236.5 C215.72 239.92 214.98 244.17 214.3 248 C213.62 251.83 212.93 256.25 212.2 259.5 C211.47 262.75 210.47 265.73 209.9 267.5 C209.33 269.27 208.98 269.71 208.8 270.15" fill="none" stroke="#000" stroke-width="1.0"/>
<path d="M207.7 185.4 C210 186.43 216.43 189.42 221.5 191.6 C226.57 193.78 232.58 196.17 238.1 198.5 C243.62 200.83 249.1 203.32 254.6 205.6 C260.1 207.88 265.32 209.91 271.1 212.2 C276.88 214.49 286.27 218.16 289.3 219.35" fill="none" stroke="#000" stroke-width="1.0"/>
<path d="M289.3 219.35 C291.62 219.76 297.85 220.58 303.2 221.8 C308.55 223.03 315.35 225.08 321.4 226.7 C327.45 228.32 333.45 230.03 339.5 231.5 C345.55 232.97 351.72 234.32 357.7 235.5 C363.68 236.68 372.45 238.04 375.4 238.55" fill="none" stroke="#000" stroke-width="1.0"/>
<path d="M375.5 238.55 C377.08 238.16 381.75 237.02 385 236.2 C388.25 235.38 389.17 234.87 395 233.65 C400.83 232.43 410 230.78 420 228.9 C430 227.03 441.67 224.82 455 222.4 C468.33 219.98 489.17 216.28 500 214.4 C510.83 212.52 510.33 212.73 520 211.1 C529.67 209.47 551.67 205.68 558 204.6" fill="none" stroke="#000" stroke-width="1.0"/>
<line x1="218.1" y1="219.35" x2="289.3" y2="219.35" stroke="#000" stroke-width="1.0"/>
<line x1="240" y1="238.55" x2="557.8" y2="238.55" stroke="#000" stroke-width="1.0"/>
<line x1="239.6" y1="219.35" x2="233.9" y2="270.45" stroke="#000" stroke-width="1.0"/>
<line x1="234.5" y1="270.45" x2="234.5" y2="376.1" stroke="#000" stroke-width="1.0"/>
<line x1="240" y1="219.35" x2="240" y2="376.1" stroke="#999" stroke-width="1.6"/>
<line x1="97.2" y1="252.3" x2="164.4" y2="252.3" stroke="#000" stroke-width="1.0"/>
<line x1="152.1" y1="257.4" x2="164.4" y2="257.4" stroke="#000" stroke-width="1.0"/>
<polyline points="147.6,252.3 152.1,257.4 147.9,266.3" fill="none" stroke="#000" stroke-width="1.0"/>
<line x1="147.7" y1="252.3" x2="147.7" y2="266.3" stroke="#8a8a8a" stroke-width="1.2"/>
<line x1="93.4" y1="266.3" x2="158.5" y2="266.3" stroke="#000" stroke-width="1.0"/>
<line x1="164.5" y1="266.3" x2="175.9" y2="266.3" stroke="#000" stroke-width="1.0"/>
<polyline points="160.7,257.4 158.5,266.3 158.5,376.1" fill="none" stroke="#000" stroke-width="1.0"/>
<polyline points="160.7,257.4 164.5,266.3 164.5,376.1" fill="none" stroke="#000" stroke-width="1.0"/>
<line x1="164.4" y1="257.4" x2="170" y2="264.7" stroke="#000" stroke-width="1.0"/>
<path d="M170 264.7 C171.32 264.85 175.4 265.32 177.9 265.6 C180.4 265.88 182.65 266.1 185 266.4 C187.35 266.7 189.1 266.93 192 267.4 C194.9 267.87 199.6 268.74 202.4 269.2 C205.2 269.66 207.73 269.99 208.8 270.15" fill="none" stroke="#000" stroke-width="1.0"/>
<path d="M170 264.7 C170.98 264.97 174.25 265.72 175.9 266.3 C177.55 266.88 178.38 267.72 179.9 268.2 C181.42 268.68 182.98 268.88 185 269.2 C187.02 269.52 189.83 269.89 192 270.1 C194.17 270.31 197 270.39 198 270.45" fill="none" stroke="#000" stroke-width="1.0"/>
<line x1="196" y1="270.45" x2="234.5" y2="270.45" stroke="#000" stroke-width="1.0"/>
<polyline points="175.5,266.5 183.2,291.95 194.7,270.4" fill="none" stroke="#000" stroke-width="1.0"/>
<line x1="174.4" y1="291.95" x2="234.5" y2="291.95" stroke="#000" stroke-width="1.45"/>
<line x1="168.2" y1="283" x2="174.4" y2="291.95" stroke="#000" stroke-width="1.0"/>
<path d="M174.4 291.95 C174.08 292.54 173 294.14 172.5 295.5 C172 296.86 171.78 298.42 171.4 300.1 C171.02 301.78 170.6 303.3 170.2 305.6 C169.8 307.9 169.38 310.76 169 313.9 C168.62 317.04 168.08 322.69 167.9 324.45" fill="none" stroke="#000" stroke-width="1.0"/>
<line x1="168" y1="283.4" x2="168" y2="324.45" stroke="#9a9a9a" stroke-width="1.3"/>
<line x1="164.5" y1="324.45" x2="234.5" y2="324.45" stroke="#000" stroke-width="1.0"/>
<text x="17.8" y="62" style="font-family:'Liberation Sans',Arial,sans-serif;font-size:8.3px" text-anchor="start" stroke="#000" stroke-width="0.2" text-rendering="geometricPrecision" textLength="37.9" lengthAdjust="spacingAndGlyphs">1084.87<tspan style="font-size:6.5px" dy="-0.6">°</tspan><tspan dy="0.6">C</tspan></text>
<text x="566.8" y="207.5" style="font-family:'Liberation Sans',Arial,sans-serif;font-size:8.3px" text-anchor="start" stroke="#000" stroke-width="0.2" text-rendering="geometricPrecision" textLength="37.8" lengthAdjust="spacingAndGlyphs">630.755<tspan style="font-size:6.5px" dy="-0.6">°</tspan><tspan dy="0.6">C</tspan></text>
<text x="120.5" y="197.3" style="font-family:'Liberation Sans',Arial,sans-serif;font-size:8.3px" text-anchor="start" stroke="#000" stroke-width="0.2" text-rendering="geometricPrecision" textLength="22.5" lengthAdjust="spacingAndGlyphs">645<tspan style="font-size:6.5px" dy="-0.6">°</tspan><tspan dy="0.6">C</tspan></text>
<text x="104.9" y="208" style="font-family:'Liberation Sans',Arial,sans-serif;font-size:8.3px" text-anchor="start" stroke="#000" stroke-width="0.2" text-rendering="geometricPrecision" textLength="10.7" lengthAdjust="spacingAndGlyphs">7.8</text>
<text x="149.5" y="208" style="font-family:'Liberation Sans',Arial,sans-serif;font-size:8.3px" text-anchor="start" stroke="#000" stroke-width="0.2" text-rendering="geometricPrecision" textLength="8.8" lengthAdjust="spacingAndGlyphs">19</text>
<text x="74" y="214.2" style="font-family:'Liberation Sans',Arial,sans-serif;font-size:10.1px" text-anchor="start" stroke="#000" stroke-width="0.15" textLength="19" lengthAdjust="spacingAndGlyphs">(Cu)</text>
<text x="198.6" y="182.5" style="font-family:'Liberation Sans',Arial,sans-serif;font-size:8.3px" text-anchor="start" stroke="#000" stroke-width="0.2" text-rendering="geometricPrecision" textLength="22.3" lengthAdjust="spacingAndGlyphs">690<tspan style="font-size:6.5px" dy="-0.6">°</tspan><tspan dy="0.6">C</tspan></text>
<text x="231.4" y="217.3" style="font-family:'Liberation Sans',Arial,sans-serif;font-size:8.3px" text-anchor="start" stroke="#000" stroke-width="0.2" text-rendering="geometricPrecision" textLength="22.9" lengthAdjust="spacingAndGlyphs">586<tspan style="font-size:6.5px" dy="-0.6">°</tspan><tspan dy="0.6">C</tspan></text>
<text x="293" y="217.1" style="font-family:'Liberation Sans',Arial,sans-serif;font-size:8.3px" text-anchor="start" stroke="#000" stroke-width="0.2" text-rendering="geometricPrecision" textLength="9.7" lengthAdjust="spacingAndGlyphs">46</text>
<text x="270.3" y="236.8" style="font-family:'Liberation Sans',Arial,sans-serif;font-size:8.3px" text-anchor="start" stroke="#000" stroke-width="0.2" text-rendering="geometricPrecision" textLength="22.3" lengthAdjust="spacingAndGlyphs">526<tspan style="font-size:6.5px" dy="-0.6">°</tspan><tspan dy="0.6">C</tspan></text>
<text x="375.5" y="247.4" style="font-family:'Liberation Sans',Arial,sans-serif;font-size:8.3px" text-anchor="start" stroke="#000" stroke-width="0.2" text-rendering="geometricPrecision" textLength="9.7" lengthAdjust="spacingAndGlyphs">63</text>
<text x="137.1" y="238.8" style="font-family:'Liberation Sans',Arial,sans-serif;font-size:8.3px" text-anchor="start" stroke="#000" stroke-width="0.2" text-rendering="geometricPrecision" textLength="22.3" lengthAdjust="spacingAndGlyphs">467<tspan style="font-size:6.5px" dy="-0.6">°</tspan><tspan dy="0.6">C</tspan></text>
<text x="98.5" y="249.6" style="font-family:'Liberation Sans',Arial,sans-serif;font-size:8.3px" text-anchor="start" stroke="#000" stroke-width="0.2" text-rendering="geometricPrecision" textLength="11.8" lengthAdjust="spacingAndGlyphs">6.5</text>
<text x="115.4" y="249.6" style="font-family:'Liberation Sans',Arial,sans-serif;font-size:8.3px" text-anchor="start" stroke="#000" stroke-width="0.2" text-rendering="geometricPrecision" textLength="22.3" lengthAdjust="spacingAndGlyphs">484<tspan style="font-size:6.5px" dy="-0.6">°</tspan><tspan dy="0.6">C</tspan></text>
<text x="104.6" y="263.9" style="font-family:'Liberation Sans',Arial,sans-serif;font-size:8.3px" text-anchor="start" stroke="#000" stroke-width="0.2" text-rendering="geometricPrecision" textLength="22.2" lengthAdjust="spacingAndGlyphs">440<tspan style="font-size:6.5px" dy="-0.6">°</tspan><tspan dy="0.6">C</tspan></text>
<text x="92.4" y="275" style="font-family:'Liberation Sans',Arial,sans-serif;font-size:8.3px" text-anchor="start" stroke="#000" stroke-width="0.2" text-rendering="geometricPrecision" textLength="12" lengthAdjust="spacingAndGlyphs">5.7</text>
<text x="178.3" y="252.5" style="font-family:'Liberation Sans',Arial,sans-serif;font-size:8.3px" text-anchor="start" stroke="#000" stroke-width="0.2" text-rendering="geometricPrecision" textLength="22.5" lengthAdjust="spacingAndGlyphs">440<tspan style="font-size:6.5px" dy="-0.6">°</tspan><tspan dy="0.6">C</tspan></text>
<text x="123.3" y="280.5" style="font-family:'Liberation Sans',Arial,sans-serif;font-size:8.3px" text-anchor="start" stroke="#000" stroke-width="0.2" text-rendering="geometricPrecision" textLength="22.3" lengthAdjust="spacingAndGlyphs">390<tspan style="font-size:6.5px" dy="-0.6">°</tspan><tspan dy="0.6">C</tspan></text>
<text x="204.7" y="279.2" style="font-family:'Liberation Sans',Arial,sans-serif;font-size:8.3px" text-anchor="start" stroke="#000" stroke-width="0.2" text-rendering="geometricPrecision" textLength="22.6" lengthAdjust="spacingAndGlyphs">427<tspan style="font-size:6.5px" dy="-0.6">°</tspan><tspan dy="0.6">C</tspan></text>
<text x="194.7" y="290" style="font-family:'Liberation Sans',Arial,sans-serif;font-size:8.3px" text-anchor="start" stroke="#000" stroke-width="0.2" text-rendering="geometricPrecision" textLength="22.6" lengthAdjust="spacingAndGlyphs">360<tspan style="font-size:6.5px" dy="-0.6">°</tspan><tspan dy="0.6">C</tspan></text>
<text x="190.6" y="322.7" style="font-family:'Liberation Sans',Arial,sans-serif;font-size:8.3px" text-anchor="start" stroke="#000" stroke-width="0.2" text-rendering="geometricPrecision" textLength="22.2" lengthAdjust="spacingAndGlyphs">260<tspan style="font-size:6.5px" dy="-0.6">°</tspan><tspan dy="0.6">C</tspan></text>
<text x="508.1" y="259.8" style="font-family:'Liberation Sans',Arial,sans-serif;font-size:10.2px" text-anchor="start" stroke="#000" stroke-width="0.15" textLength="18.9" lengthAdjust="spacingAndGlyphs">(Sb)</text>
<text x="191.3" y="233.6" style="font-family:'Liberation Sans',Arial,sans-serif;font-size:10.6px" text-anchor="middle" stroke="#000" stroke-width="0.12">β</text>
<text x="137" y="261" style="font-family:'Liberation Serif','Times New Roman',serif;font-size:11px" text-anchor="middle" font-style="italic">γ</text>
<text x="143.7" y="303.6" style="font-family:'Liberation Serif','Times New Roman',serif;font-size:11px" text-anchor="middle">δ</text>
<text x="183.6" y="279.3" style="font-family:'Liberation Serif','Times New Roman',serif;font-size:10.5px" text-anchor="middle" font-style="italic">ε</text>
<line x1="174.6" y1="282.2" x2="177.6" y2="282.2" stroke="#c8c8c8" stroke-width="0.9"/>
<text x="187.4" y="307" style="font-family:'Liberation Serif','Times New Roman',serif;font-size:11px" text-anchor="middle">ζ</text>
<text x="274" y="274.9" style="font-family:'Liberation Serif','Times New Roman',serif;font-size:11px" text-anchor="middle">η</text>
<line x1="149.2" y1="241.2" x2="157.06" y2="254.95" stroke="#000" stroke-width="0.9"/><polygon points="158,256.6 156.04,255.19 157.78,254.19" fill="#000"/>
<line x1="141" y1="258.75" x2="148" y2="258.75" stroke="#8a8a8a" stroke-width="1.2"/><polygon points="149.9,258.75 147.7,259.95 147.7,257.55" fill="#000"/>
<line x1="178.7" y1="256.1" x2="171.68" y2="263.12" stroke="#000" stroke-width="0.9"/><polygon points="170.2,264.6 171.12,262.13 172.67,263.68" fill="#000"/>
<line x1="147" y1="278.5" x2="169.13" y2="281.69" stroke="#000" stroke-width="0.9"/><polygon points="172,282.1 168.6,283.23 169.06,280.06" fill="#000"/>
<line x1="149.9" y1="300.4" x2="159.6" y2="300.4" stroke="#333" stroke-width="1.1"/><polygon points="162.3,300.4 159.3,301.9 159.3,298.9" fill="#000"/>
<line x1="181.9" y1="304.3" x2="170.2" y2="304.3" stroke="#555" stroke-width="1.1"/><polygon points="168.3,304.3 170.5,303.2 170.5,305.4" fill="#000"/>
<line x1="264.1" y1="271.6" x2="238.7" y2="271.6" stroke="#444" stroke-width="1.2"/><polygon points="236.8,271.6 239,270.5 239,272.7" fill="#000"/>
<line x1="530.3" y1="255.85" x2="554.3" y2="255.85" stroke="#555" stroke-width="1.3"/><polygon points="556.6,255.85 554,257.15 554,254.55" fill="#000"/></svg>
</body></html>
